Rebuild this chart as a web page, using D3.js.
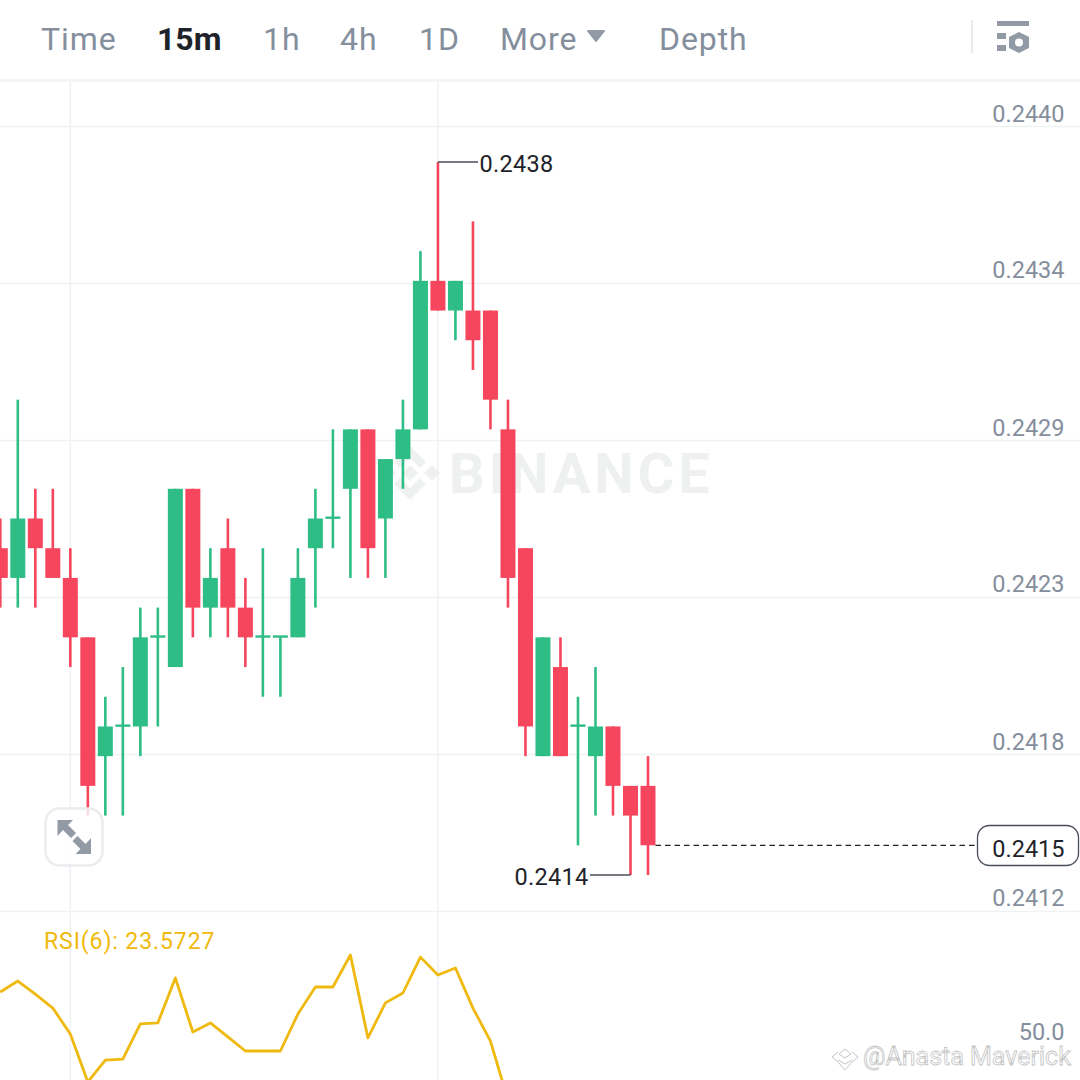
<!DOCTYPE html>
<html>
<head>
  <meta charset="utf-8">
  <script src="https://d3js.org/d3.v7.min.js"></script>
  <style>
    html, body { margin: 0; padding: 0; background: #fff; }
    svg { display: block; }
    text { font-family: Roboto, sans-serif; }
  </style>
</head>
<body>
<script>
  // candle values
  var opens  = [.2425,.2424,.2426,.2425,.2424,.2422,.2418,.2419,.2419,.2422,.2421,.2427,.2423,.2425,.2423,.2422,.2422,.2422,.2425,.2426,.2427,.2429,.2426,.2428,.2429,.2434,.2433,.2433,.2433,.2429,.2425,.2418,.2421,.2419,.2418,.2419,.2417,.2417];
  var highs  = [.2426,.2430,.2427,.2427,.2425,.2422,.2420,.2421,.2423,.2423,.2427,.2427,.2425,.2426,.2424,.2425,.2422,.2425,.2427,.2429,.2429,.2429,.2428,.2430,.2435,.2438,.2434,.2436,.2433,.2430,.2425,.2422,.2422,.2420,.2421,.2419,.2417,.2418];
  var lows   = [.2423,.2423,.2423,.2424,.2421,.2416,.2416,.2416,.2418,.2419,.2421,.2422,.2422,.2422,.2421,.2420,.2420,.2422,.2423,.2425,.2424,.2424,.2424,.2427,.2429,.2433,.2432,.2431,.2429,.2423,.2418,.2418,.2418,.2415,.2416,.2416,.2414,.2414];
  var closes = [.2424,.2426,.2425,.2424,.2422,.2417,.2419,.2419,.2422,.2422,.2427,.2423,.2424,.2423,.2422,.2422,.2422,.2424,.2426,.2426,.2429,.2425,.2428,.2429,.2434,.2433,.2434,.2432,.2430,.2424,.2419,.2422,.2418,.2419,.2419,.2417,.2416,.2415];

  var rsiValues = [70.4,74.6,69.6,64.2,54.2,35.8,44.2,44.6,58.1,58.5,75.8,55,58.5,53.1,47.7,47.7,47.7,61.9,72.3,72.3,84.6,52.7,66.2,70,83.8,76.9,79.6,64.2,51.5,28.8];

  var gridPrices = [.243921,.243393,.242864,.242336,.241807,.241279];
  var gridLabels = ["0.2440","0.2434","0.2429","0.2423","0.2418","0.2412"];
  var timeGridIdx = [4, 25];
  var intervals = ["Time","15m","1h","4h","1D","More","Depth"];
  var intervalX = [41,157,263,340,419,500,659];

  var lastPrice = .2415, highPrice = .2438, lowPrice = .2414;

  var width = 1080, height = 1080;
  var green = "#2EBD85", red = "#F6465D", gray = "#848E9C", dark = "#1E2329", gridCol = "#F0F1F2";

  var svg = d3.select("body").append("svg")
    .attr("width", width)
    .attr("height", height);

  var x = d3.scaleLinear().domain([0, 37]).range([0.3, 648]);
  var y = d3.scaleLinear().domain([.2414, .2438]).range([875, 162]);
  var rsiY = d3.scaleLinear().domain([0, 100]).range([1175, 915]);

  // header
  svg.append("rect").attr("x", 0).attr("y", 79).attr("width", width).attr("height", 3).attr("fill", "#F5F5F5");
  svg.selectAll(".interval").data(intervals).enter().append("text")
    .attr("class", "interval")
    .attr("x", function(d, i) { return intervalX[i]; })
    .attr("y", 50)
    .attr("font-size", 32)
    .attr("letter-spacing", function(d) { return d == "15m" ? 0 : 0.9; })
    .attr("font-weight", function(d) { return d == "15m" ? 700 : 400; })
    .attr("fill", function(d) { return d == "15m" ? dark : gray; })
    .text(function(d) { return d; });
  svg.append("path").attr("d", "M588 31H604L596 41Z")
    .attr("fill", "#929AA5").attr("stroke", "#929AA5").attr("stroke-width", 2).attr("stroke-linejoin", "round");
  svg.append("rect").attr("x", 971).attr("y", 20).attr("width", 2).attr("height", 33).attr("fill", "#E8EAED");
  var icon = svg.append("g").attr("fill", "#929AA5");
  icon.append("rect").attr("x", 997).attr("y", 21).attr("width", 32).attr("height", 5);
  icon.append("rect").attr("x", 997).attr("y", 33).attr("width", 9).attr("height", 6);
  icon.append("rect").attr("x", 997).attr("y", 45).attr("width", 9).attr("height", 6);
  icon.append("path").attr("d", "M1019 32L1029 37V48L1019 53L1009 48V37Z");
  icon.append("circle").attr("cx", 1019).attr("cy", 42.5).attr("r", 4).attr("fill", "#fff");

  // grid
  svg.selectAll(".vgrid").data(timeGridIdx).enter().append("line")
    .attr("class", "vgrid")
    .attr("x1", function(d) { return x(d); }).attr("x2", function(d) { return x(d); })
    .attr("y1", 82).attr("y2", height)
    .attr("stroke", gridCol).attr("stroke-width", 1.5);

  var axis = svg.append("g").call(
    d3.axisRight(y).tickValues(gridPrices).tickSize(width).tickFormat(function(d, i) { return gridLabels[i]; })
  );
  axis.select(".domain").remove();
  axis.selectAll("line").attr("stroke", gridCol).attr("stroke-width", 1.5);
  axis.selectAll("text")
    .attr("x", 1064.5).attr("dy", "-5px")
    .attr("text-anchor", "end")
    .attr("font-family", "Roboto, sans-serif")
    .attr("font-size", 23.5)
    .attr("fill", gray);

  // binance watermark
  var wm = svg.append("g").attr("fill", "#EFF1F1");
  wm.append("text").attr("x", 449).attr("y", 493).attr("font-size", 56).attr("font-weight", 700)
    .attr("letter-spacing", 3.9).text("BINANCE");
  wm.append("path").attr("d", "M410 465L418 473L410 481L402 473Z M432 465L440 473L432 481L424 473Z M388 465L396 473L388 481L380 473Z "
    + "M410 446L426 462L420 468L410 458L400 468L394 462Z M410 500L426 484L420 478L410 488L400 478L394 484Z");

  // wicks
  var idx = d3.range(opens.length);
  function col(i) { return closes[i] >= opens[i] ? green : red; }

  svg.selectAll(".wick").data(idx).enter().append("rect")
    .attr("class", "wick")
    .attr("x", function(i) { return x(i) - 1.3; })
    .attr("width", 2.6)
    .attr("y", function(i) { return y(highs[i]); })
    .attr("height", function(i) { return y(lows[i]) - y(highs[i]); })
    .attr("fill", function(i) { return col(i); });

  // bodies
  svg.selectAll(".body").data(idx).enter().append("rect")
    .attr("class", "body")
    .attr("x", function(i) { return x(i) - 7.5; })
    .attr("width", 15)
    .attr("y", function(i) {
      var top = y(Math.max(opens[i], closes[i]));
      return opens[i] == closes[i] ? top - 2 : top;
    })
    .attr("height", function(i) { return Math.max(2.4, Math.abs(y(opens[i]) - y(closes[i]))); })
    .attr("fill", function(i) { return col(i); });

  // high / low markers
  svg.append("line").attr("x1", x(25)).attr("x2", 478).attr("y1", y(highPrice)).attr("y2", y(highPrice))
    .attr("stroke", "#474D57").attr("stroke-width", 1.3);
  svg.append("text").attr("x", 479.5).attr("y", y(highPrice) + 10).attr("font-size", 23.5).attr("letter-spacing", 0.3)
    .attr("fill", dark).text("0.2438");
  svg.append("line").attr("x1", 590).attr("x2", x(36)).attr("y1", y(lowPrice)).attr("y2", y(lowPrice))
    .attr("stroke", "#474D57").attr("stroke-width", 1.3);
  svg.append("text").attr("x", 514.5).attr("y", y(lowPrice) + 10).attr("font-size", 23.5).attr("letter-spacing", 0.3)
    .attr("fill", dark).text("0.2414");

  // last price
  svg.append("line").attr("x1", x(37) + 7.5).attr("x2", 977).attr("y1", y(lastPrice)).attr("y2", y(lastPrice))
    .attr("stroke", dark).attr("stroke-width", 1.3).attr("stroke-dasharray", "5.5,4");
  svg.append("rect").attr("x", 977.5).attr("y", 825.5).attr("width", 101).attr("height", 40).attr("rx", 12)
    .attr("fill", "#fff").attr("stroke", "#474D57").attr("stroke-width", 1.3);
  svg.append("text").attr("x", 1064.5).attr("y", 857).attr("text-anchor", "end").attr("font-size", 23.5)
    .attr("fill", dark).text("0.2415");

  // expand button
  svg.append("rect").attr("x", 45.5).attr("y", 808.5).attr("width", 57).attr("height", 57).attr("rx", 14)
    .attr("fill", "#fff").attr("fill-opacity", 0.8).attr("stroke", "#EAECEF").attr("stroke-width", 2.5);
  svg.append("path")
    .attr("d", "M57.5 820H73L68 825L76 833L71 838L63 830L57.5 836Z M91 854H75.5L80.5 849L72.5 841L77.5 836L85.5 844L91 838Z")
    .attr("fill", "#929AA5");

  // rsi
  svg.append("text").attr("x", 44).attr("y", 949).attr("font-size", 23).attr("letter-spacing", 0.9)
    .attr("fill", "#F0B90B").text("RSI(6): 23.5727");
  svg.append("path").datum(rsiValues)
    .attr("fill", "none").attr("stroke", "#EFB90F").attr("stroke-width", 2.8).attr("stroke-linejoin", "round")
    .attr("d", d3.line().x(function(d, i) { return x(i); }).y(function(d) { return rsiY(d); }));
  svg.append("text").attr("x", 1064.5).attr("y", 1040).attr("text-anchor", "end").attr("font-size", 23.5)
    .attr("fill", gray).text("50.0");

  // corner credit
  svg.append("text").attr("x", 863).attr("y", 1065).attr("font-size", 25)
    .attr("fill", "#fff").attr("stroke", "#C4C4C4").attr("stroke-width", 0.8).text("@Anasta Maverick");
  svg.append("path")
    .attr("d", "M845 1049L851 1054L845 1058L839 1054Z M832 1057L838 1052 M832 1057L838 1062L845 1070L852 1062L858 1057L852 1052 M838 1060L845 1064L852 1060")
    .attr("fill", "none").attr("stroke", "#C4C4C4").attr("stroke-width", 1);
</script>
</body>
</html>
